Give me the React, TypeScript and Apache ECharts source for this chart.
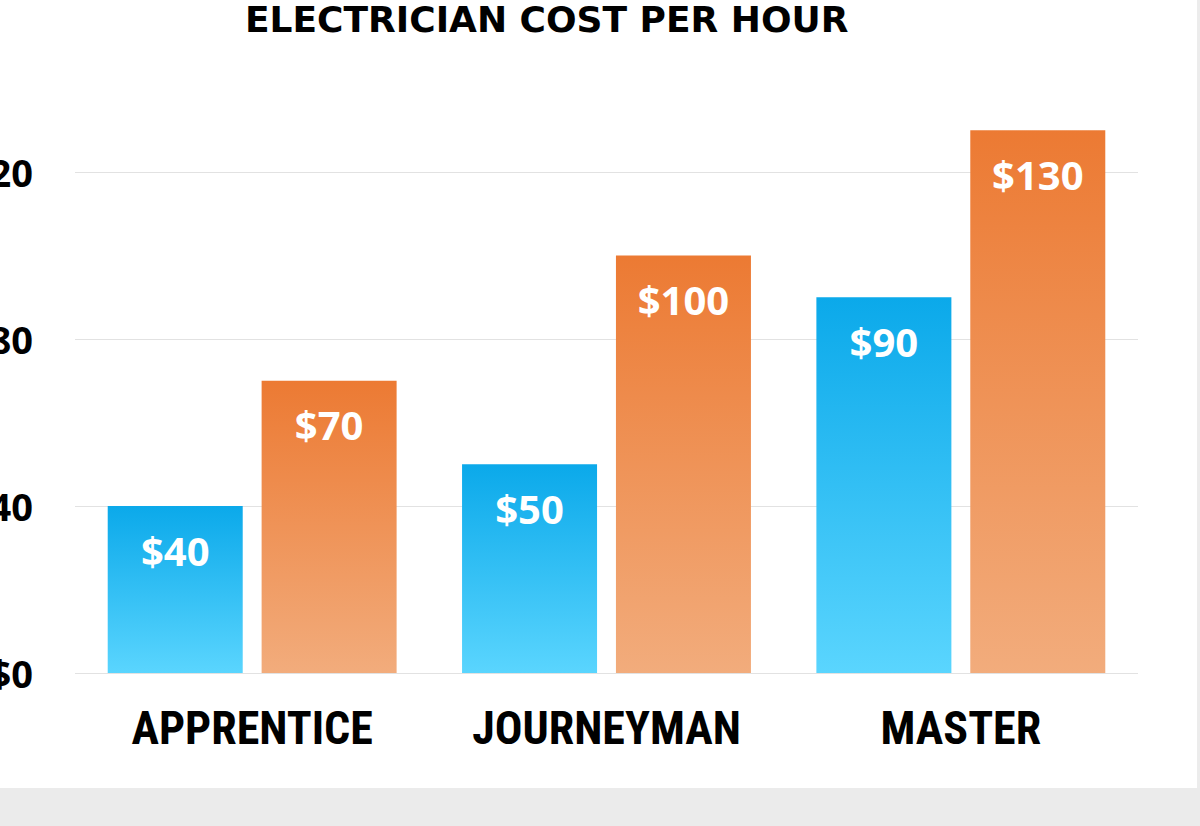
import React, { useEffect, useRef } from 'react';
import * as echarts from 'echarts';

const levels = ['APPRENTICE', 'JOURNEYMAN', 'MASTER'];
const lowRates = [40, 50, 90];
const highRates = [70, 100, 130];
const yTicks = [0, 40, 80, 120];

const barFont = '"Open Sans", Roboto, sans-serif';

function gradient(top: string, bottom: string) {
  return new echarts.graphic.LinearGradient(0, 0, 0, 1, [
    { offset: 0, color: top },
    { offset: 1, color: bottom }
  ]);
}

export default function App() {
  const chartRef = useRef<HTMLDivElement>(null);

  useEffect(() => {
    if (!chartRef.current) return;
    const chart = echarts.init(chartRef.current, undefined, { renderer: 'svg' });

    const valueLabel = {
      show: true,
      position: 'insideTop',
      distance: 24,
      color: '#ffffff',
      fontFamily: barFont,
      fontWeight: 'bold',
      fontSize: 40,
      lineHeight: 40,
      formatter: (p: any) => '$' + p.value
    };

    chart.setOption({
      animation: false,
      backgroundColor: '#ffffff',
      title: {
        text: 'ELECTRICIAN COST PER HOUR',
        left: 240,
        top: -4,
        textStyle: {
          fontFamily: '"DejaVu Sans", sans-serif',
          fontWeight: 'bold',
          fontSize: 36,
          lineHeight: 36,
          color: '#000000'
        }
      },
      grid: {
        left: 75,
        right: 62,
        top: 172,
        bottom: 153,
        containLabel: false,
        outerBoundsMode: 'none'
      },
      xAxis: {
        type: 'category',
        data: levels,
        axisLine: { show: false },
        axisTick: { show: false },
        axisLabel: {
          interval: 0,
          hideOverlap: false,
          margin: 32,
          color: '#000000',
          fontFamily: '"Liberation Sans Narrow", "Roboto Condensed", sans-serif',
          fontWeight: 'bold',
          fontSize: 46
        }
      },
      yAxis: {
        type: 'value',
        min: 0,
        max: 120,
        interval: 40,
        axisLine: { show: false },
        axisTick: { show: false },
        splitLine: { lineStyle: { color: '#e2e2e2', width: 1 } },
        axisLabel: {
          margin: 42,
          color: '#000000',
          fontFamily: barFont,
          fontWeight: 'bold',
          fontSize: 38,
          formatter: (v: number) => (yTicks.includes(v) ? '$' + v : '')
        }
      },
      series: [
        {
          type: 'bar',
          data: lowRates,
          barWidth: 135,
          barGap: '14%',
          clip: false,
          itemStyle: { color: gradient('#0ba9ea', '#5ad5fe') },
          label: valueLabel
        },
        {
          type: 'bar',
          data: highRates,
          barWidth: 135,
          barGap: '14%',
          clip: false,
          itemStyle: { color: gradient('#ec7a33', '#f2ac7c') },
          label: valueLabel
        }
      ],
      graphic: [
        { type: 'rect', left: 0, top: 788, shape: { width: 1200, height: 38 }, style: { fill: '#ebebeb' } },
        { type: 'rect', left: 1197, top: 0, shape: { width: 3, height: 788 }, style: { fill: '#ececec' } }
      ]
    });

    return () => chart.dispose();
  }, []);

  return (
    <div
      ref={chartRef}
      style={{ position: 'fixed', left: 0, top: 0, width: 1200, height: 826, overflow: 'hidden' }}
    />
  );
}
